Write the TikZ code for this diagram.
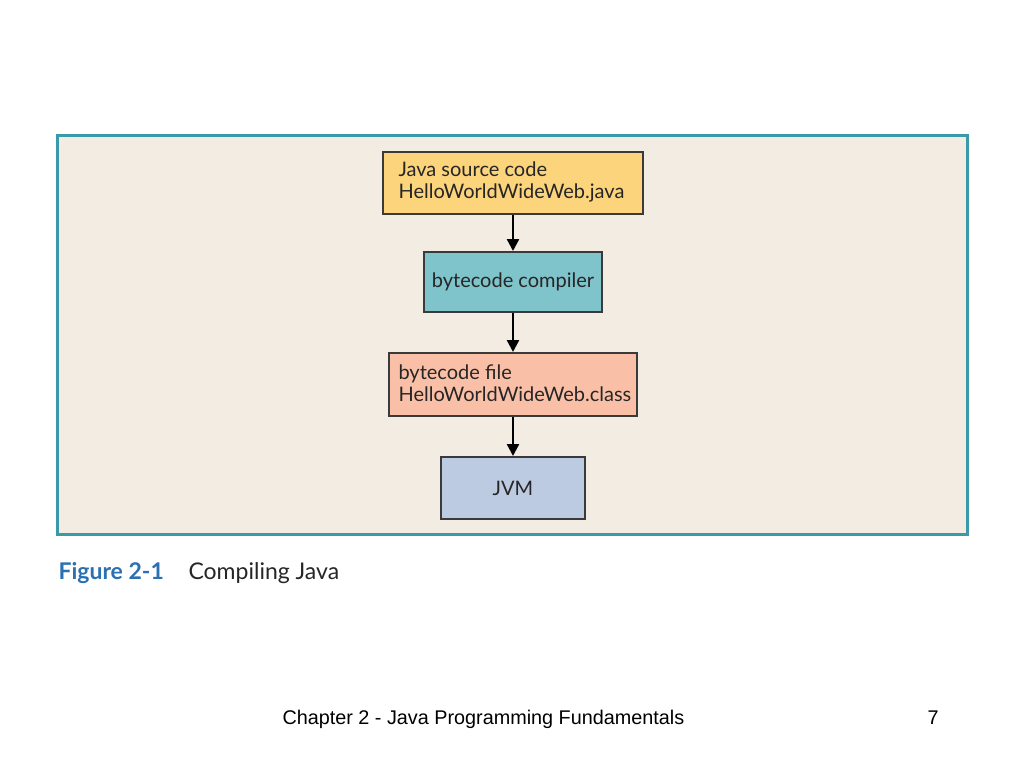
\documentclass[tikz,border=0pt]{standalone}
\usepackage{fontspec}
\setmainfont{Lato}
\newfontfamily\footfont{Liberation Sans}
\usetikzlibrary{arrows.meta}
\definecolor{panelfill}{HTML}{F3ECE2}
\definecolor{panelline}{HTML}{3A9AAA}
\definecolor{srcfill}{HTML}{FBD47C}
\definecolor{compfill}{HTML}{7FC3CB}
\definecolor{filefill}{HTML}{FAC0A7}
\definecolor{jvmfill}{HTML}{BDCBE2}
\definecolor{figblue}{HTML}{2A70B2}
\definecolor{boxline}{HTML}{3A3A3A}
\tikzset{
  box/.style={draw=boxline, line width=2pt, inner sep=0pt, anchor=north west},
  lbl/.style={font=\fontsize{20}{22.5}\selectfont, text=black!85, align=left, anchor=west},
  clbl/.style={font=\fontsize{20}{22.5}\selectfont, text=black!85, anchor=center},
  flow/.style={draw=black, line width=2.4pt, -{Triangle[length=12pt,width=12pt]}},
}
\begin{document}
\begin{tikzpicture}[x=1pt,y=-1pt]
\useasboundingbox (0,0) rectangle (1024,768);
\fill[white] (0,0) rectangle (1024,768);
% panel
\draw[panelline, line width=3pt, fill=panelfill] (57,135) rectangle (967,534);
% boxes
\node[box, fill=srcfill, minimum width=260pt, minimum height=62pt] (src) at (382,151) {};
\node[box, fill=compfill, minimum width=178pt, minimum height=60pt] (comp) at (423,251) {};
\node[box, fill=filefill, minimum width=248pt, minimum height=63pt] (file) at (388,352) {};
\node[box, fill=jvmfill, minimum width=144pt, minimum height=62pt] (jvm) at (440,456) {};
% labels
\node[lbl] (srct) at (395,182) {Java source code\\HelloWorldWideWeb.java};
\node[clbl] (compt) at (comp.center) {bytecode compiler};
\node[lbl] (filet) at (395,383) {bytecode file\\HelloWorldWideWeb.class};
\node[clbl] (jvmt) at (jvm.center) {JVM};
% arrows
\draw[flow] (src.south) -- (comp.north);
\draw[flow] (comp.south) -- (file.north);
\draw[flow] (file.south) -- (jvm.north);
% caption
\node[anchor=base west, font=\fontsize{23}{26}\selectfont\bfseries, text=figblue] (fig) at (55,579) {Figure 2-1};
\node[anchor=base west, font=\fontsize{23}{26}\selectfont, text=black!85] (cap) at (185,579) {Compiling Java};
% footer
\node[anchor=base west, font=\footfont\fontsize{19.8}{22}\selectfont] (foot) at (279,724) {Chapter 2 - Java Programming Fundamentals};
\node[anchor=base west, font=\footfont\fontsize{19.8}{22}\selectfont] (page) at (924,724) {7};
\end{tikzpicture}
\end{document}
